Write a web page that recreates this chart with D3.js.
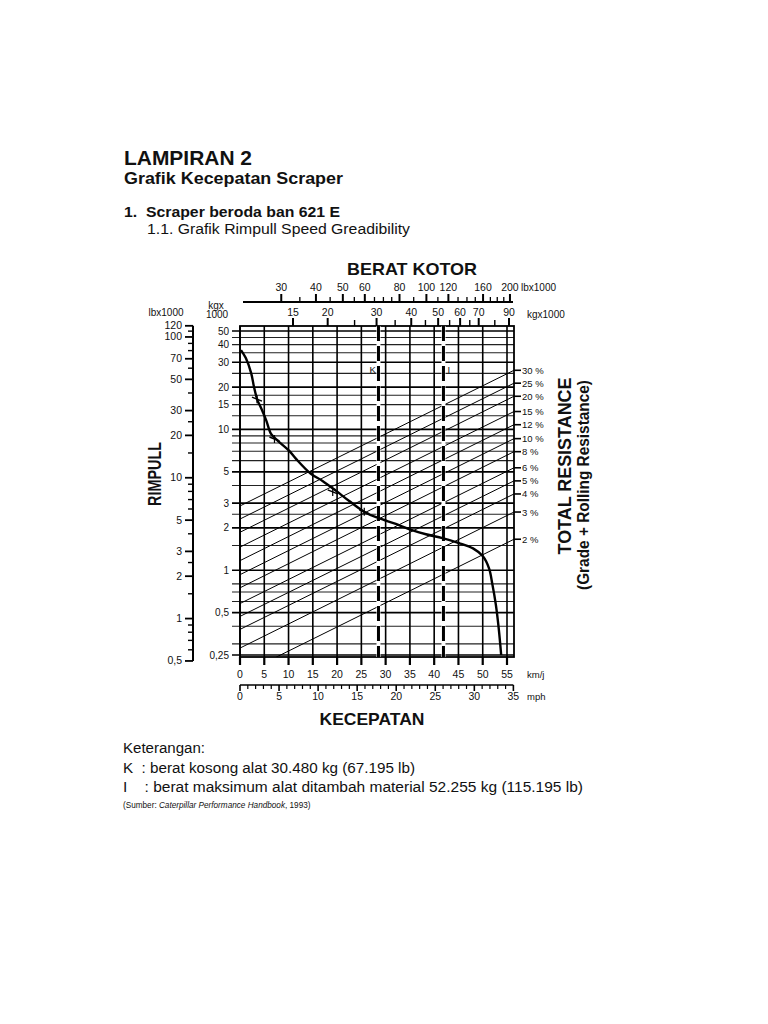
<!DOCTYPE html>
<html><head><meta charset="utf-8">
<script src="https://cdn.jsdelivr.net/npm/d3@7"></script>
<style>body{margin:0;background:#fff}</style>
</head><body><div id="chart"></div>
<script>
// ---------------- data ----------------
// Rimpull curve: speed (km/h) vs rimpull (kg x 1000)
const curveSpeed   = [0.2,1.2,2.3,2.9,3.6,4.3,5.4,6.4,7.8,10.1,11.5,14.6,17.0,19.8,22.5,26.0,28.6,32.1,34.8,38.3,41.7,45.1,48.0,50.0,51.3,52.0,52.7,53.3,53.8];
const curveRimpull = [36.6,32.1,25.1,19.9,16.1,14.3,11.6,9.3,8.3,7.06,6.2,4.84,4.31,3.66,3.10,2.55,2.34,2.13,1.96,1.80,1.69,1.56,1.43,1.26,1.03,0.79,0.57,0.385,0.25];
// gear shift marks
const shiftSpeed   = [3.5,7.1,19.1,25.6];
const shiftRimpull = [16.4,8.55,3.6,2.6];
// total resistance lines: rimpull at left edge (0 km/h) and at right frame
const gradeLabels = ["30 %","25 %","20 %","15 %","12 %","10 %","8 %","6 %","5 %","4 %","3 %","2 %"];
const gradeRight  = [26.3,21.3,17.2,13.4,10.8,8.6,6.95,5.34,4.31,3.48,2.59,1.66];
const gradeLeft   = [2.86,2.31,1.86,1.46,1.17,0.93,0.75,0.58,0.47,0.38,0.28,0.18];
// gross weight markers (kg x 1000)
const markerNames  = ["K","I"];
const markerWeight = [30.48,52.255];
// axes
const kmhTicks = [0,5,10,15,20,25,30,35,40,45,50,55];
const mphLabels = [0,5,10,15,20,25,30,35];
const kgLeftValues = [50,40,30,20,15,10,5,3,2,1,0.5,0.25];
const kgLeftLabels = ["50","40","30","20","15","10","5","3","2","1","0,5","0,25"];
const lbLeftValues = [120,100,70,50,30,20,10,5,3,2,1,0.5];
const lbLeftLabels = ["120","100","70","50","30","20","10","5","3","2","1","0,5"];
const lbLeftMinor = [110,90,80,60,40,25,15,9,8,7,6,4,2.5,1.5,0.9,0.8,0.7,0.6];
const rimpullGrid = [50,45,40,35,30,25,20,17.5,15,12.5,10,9,8,7,6,5,4,3,2.5,2,1.5,1,0.8,0.7,0.6,0.5,0.4,0.3,0.25];
const rimpullMajor = [50,30,20,10,5,3,2,1,0.5,0.25];
const topLbLabels = [30,40,50,60,80,100,120,160,200];
const topLbTicks  = [30,35,40,45,50,55,60,65,70,75,80,90,100,110,120,130,140,150,160,170,180,190,200];
const topKgLabels = [15,20,30,40,50,60,70,90];
const topKgTicks  = [15,20,25,30,35,40,45,50,55,60,65,70,80,90];

// ---------------- drawing ----------------
const W = 768, H = 1024;
const LB_PER_KG = 2.2046, KMH_PER_MPH = 1.609;
const svg = d3.select("#chart").append("svg").attr("width", W).attr("height", H);
svg.append("rect").attr("width", W).attr("height", H).attr("fill", "#fff");
const F = "'Liberation Sans', Arial, sans-serif";

const P = {l:240, r:514, t:326, b:657};
const x  = d3.scaleLinear().domain([0,55]).range([240,507]);
const y  = d3.scaleLog().domain([0.25,50]).range([655,331]);
const xw = d3.scaleLog().domain([15,90]).range([293,509]);

svg.append("clipPath").attr("id","clip").append("rect")
  .attr("x",P.l).attr("y",P.t).attr("width",P.r-P.l).attr("height",P.b-P.t);

const txt = (s, px, py, opt={}) => {
  const t = svg.append("text").attr("x",px).attr("y",py)
  .attr("font-family", F).attr("font-size", opt.fs||11)
  .attr("font-weight", opt.fw||"normal")
  .attr("text-anchor", opt.ta||"start").attr("fill","#111")
  .attr("xml:space","preserve").text(s);
  if (opt.len) t.attr("textLength",opt.len).attr("lengthAdjust","spacingAndGlyphs");
  return t;
};

// headings
txt("LAMPIRAN 2",124,165,{fs:21,fw:"bold",len:128});
txt("Grafik Kecepatan Scraper",124,184,{fs:17,fw:"bold",len:219});
txt("1.  Scraper beroda ban 621 E",124,217,{fs:15,fw:"bold",len:216});
txt("1.1. Grafik Rimpull Speed Greadibility",147,234,{fs:14,len:263});

// grid: horizontal
const g = svg.append("g");
g.selectAll("line.h").data(rimpullGrid).join("line")
  .attr("x1",P.l-8).attr("x2",P.r).attr("y1",d=>y(d)).attr("y2",d=>y(d))
  .attr("stroke",d=>rimpullMajor.includes(d)?"#000":"#222")
  .attr("stroke-width",d=>rimpullMajor.includes(d)?1.7:1.1);
// grid: vertical
g.selectAll("line.v").data(kmhTicks).join("line")
  .attr("x1",d=>x(d)).attr("x2",d=>x(d)).attr("y1",P.t).attr("y2",P.b)
  .attr("stroke","#000").attr("stroke-width",1.6);
// frame
g.append("rect").attr("x",P.l).attr("y",P.t).attr("width",P.r-P.l).attr("height",P.b-P.t)
  .attr("fill","none").attr("stroke","#000").attr("stroke-width",1.8);

// diagonal total resistance lines
const xRight = x.invert(P.r);
const diag = svg.append("g").attr("clip-path","url(#clip)");
gradeLabels.forEach((lab,i)=>{
  diag.append("line").attr("x1",x(0)).attr("y1",y(gradeLeft[i]))
    .attr("x2",x(xRight)).attr("y2",y(gradeRight[i]))
    .attr("stroke","#000").attr("stroke-width",1);
});
gradeLabels.forEach((lab,i)=>{
  const yy = y(gradeRight[i]);
  svg.append("line").attr("x1",P.r).attr("x2",P.r+7).attr("y1",yy).attr("y2",yy)
    .attr("stroke","#000").attr("stroke-width",1.6);
  txt(lab,P.r+8,yy+3.5,{fs:9.5});
});

// dashed gross-weight markers
markerWeight.forEach((w,i)=>{
  const xx = xw(w);
  svg.append("line").attr("x1",xx).attr("x2",xx).attr("y1",P.t).attr("y2",P.b)
    .attr("stroke","#fff").attr("stroke-width",4);
  svg.append("line").attr("x1",xx).attr("x2",xx).attr("y1",P.t).attr("y2",P.b)
    .attr("stroke","#000").attr("stroke-width",3).attr("stroke-dasharray","15,5");
});
txt(markerNames[0], xw(markerWeight[0])-9, 373, {fs:9.5});
txt(markerNames[1], xw(markerWeight[1])+4, 373, {fs:9.5});

// rimpull curve
const pts = curveSpeed.map((s,i)=>[x(s), y(curveRimpull[i])]);
svg.append("path").attr("d", d3.line().curve(d3.curveCatmullRom)(pts))
  .attr("fill","none").attr("stroke","#000").attr("stroke-width",2.4);
shiftSpeed.forEach((s,i)=>{
  const cx = x(s), cy = y(shiftRimpull[i]);
  svg.append("line").attr("x1",cx-5).attr("y1",cy-2).attr("x2",cx+5).attr("y2",cy+2)
    .attr("stroke","#000").attr("stroke-width",1.5);
  svg.append("line").attr("x1",cx).attr("y1",cy-4).attr("x2",cx).attr("y2",cy+4)
    .attr("stroke","#000").attr("stroke-width",1.2);
});

// left kg axis labels
kgLeftValues.forEach((v,i)=> txt(kgLeftLabels[i], 229, y(v)+3.5, {fs:10, ta:"end"}));
txt("kgx",216,309,{fs:10,ta:"middle"});
txt("1000",217,318,{fs:10,ta:"middle"});

// left lb axis
const yl = v => y(v / LB_PER_KG);
svg.append("line").attr("x1",193).attr("x2",193).attr("y1",yl(120)).attr("y2",yl(0.5))
  .attr("stroke","#000").attr("stroke-width",2);
lbLeftValues.forEach((v,i)=>{
  svg.append("line").attr("x1",185).attr("x2",193).attr("y1",yl(v)).attr("y2",yl(v))
    .attr("stroke","#000").attr("stroke-width",1.8);
  txt(lbLeftLabels[i], 182, yl(v)+3.5, {fs:10.5, ta:"end"});
});
lbLeftMinor.forEach(v=>{
  svg.append("line").attr("x1",188).attr("x2",193).attr("y1",yl(v)).attr("y2",yl(v))
    .attr("stroke","#000").attr("stroke-width",1.4);
});
txt("lbx1000",166,316,{fs:10,ta:"middle"});

// top axes
txt("BERAT KOTOR",412,275,{fs:17,fw:"bold",ta:"middle",len:130});
const xlb = v => xw(v / LB_PER_KG);
svg.append("line").attr("x1",243).attr("x2",513).attr("y1",302).attr("y2",302)
  .attr("stroke","#000").attr("stroke-width",1.8);
topLbTicks.forEach(v=>{
  const major = topLbLabels.includes(v);
  svg.append("line").attr("x1",xlb(v)).attr("x2",xlb(v)).attr("y1",major?294:297).attr("y2",302)
    .attr("stroke","#000").attr("stroke-width",major?2:1.3);
});
topLbLabels.forEach(v=> txt(String(v), xlb(v), 291, {fs:10.5, ta:"middle"}));
txt("lbx1000",521,291,{fs:10});
topKgTicks.forEach(v=>{
  const major = topKgLabels.includes(v);
  svg.append("line").attr("x1",xw(v)).attr("x2",xw(v)).attr("y1",major?318:320).attr("y2",P.t)
    .attr("stroke","#000").attr("stroke-width",major?2:1.4);
});
topKgLabels.forEach(v=> txt(String(v), xw(v), 316, {fs:10.5, ta:"middle"}));
txt("kgx1000",527,318,{fs:10});

// bottom km/h axis
kmhTicks.forEach(v=>{
  svg.append("line").attr("x1",x(v)).attr("x2",x(v)).attr("y1",P.b).attr("y2",665)
    .attr("stroke","#000").attr("stroke-width",2.2);
  txt(String(v), x(v), 678, {fs:10.5, ta:"middle"});
});
txt("km/j",527,678,{fs:9.5});
// mph axis
const xm = v => x(v * KMH_PER_MPH);
svg.append("line").attr("x1",xm(0)).attr("x2",xm(35)).attr("y1",685).attr("y2",685)
  .attr("stroke","#000").attr("stroke-width",1.6);
d3.range(0,36).forEach(v=>{
  const major = mphLabels.includes(v);
  svg.append("line").attr("x1",xm(v)).attr("x2",xm(v)).attr("y1",685).attr("y2",major?691:689)
    .attr("stroke","#000").attr("stroke-width",major?1.6:1.2);
});
mphLabels.forEach(v=> txt(String(v), xm(v), 700, {fs:10.5, ta:"middle"}));
txt("mph",527,700,{fs:9.5});
txt("KECEPATAN",372,725,{fs:16.5,fw:"bold",ta:"middle",len:105});

// rotated titles (condensed via textLength)
const rot = (s, tx, ty, fs, len) => svg.append("text")
  .attr("transform",`translate(${tx},${ty}) rotate(-90)`)
  .attr("font-family",F).attr("font-size",fs).attr("font-weight","bold")
  .attr("text-anchor","middle").attr("fill","#111")
  .attr("textLength",len).attr("lengthAdjust","spacingAndGlyphs").text(s);
rot("RIMPULL",161,474,18,64);
rot("TOTAL RESISTANCE",571,466,19,177);
rot("(Grade + Rolling Resistance)",589,485,16,210);

// footnote
txt("Keterangan:",123,753,{fs:14,len:82});
txt("K  : berat kosong alat 30.480 kg (67.195 lb)",123,773,{fs:14,len:292});
txt("I    : berat maksimum alat ditambah material 52.255 kg (115.195 lb)",123,792,{fs:14,len:460});
const s = svg.append("text").attr("x",123).attr("y",808).attr("font-family",F)
  .attr("font-size",8.2).attr("fill","#111");
s.append("tspan").text("(Sumber: ");
s.append("tspan").attr("font-style","italic").text("Caterpillar Performance Handbook");
s.append("tspan").text(", 1993)");
</script></body></html>
